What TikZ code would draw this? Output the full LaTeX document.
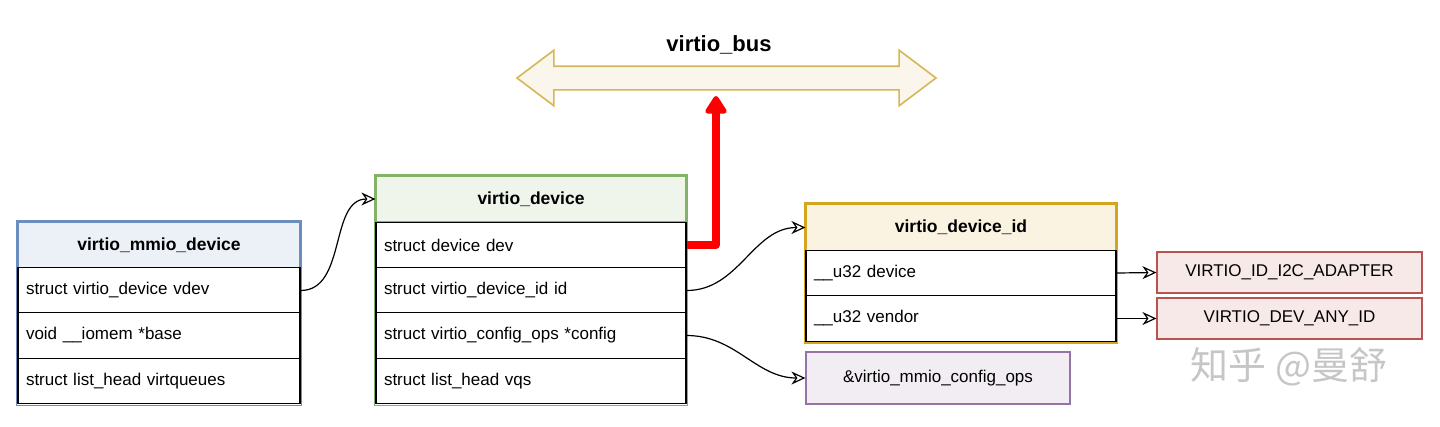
\documentclass[tikz,border=0pt]{standalone}
\usepackage{fontspec}
\setmainfont{Liberation Sans}
\newfontfamily\cjk{Noto Sans CJK SC}
\usetikzlibrary{arrows.meta,shapes.arrows,positioning}
\definecolor{cblue}{HTML}{6C8EBF}
\definecolor{cgreen}{HTML}{82B366}
\definecolor{cgold}{HTML}{D6A520}
\definecolor{cbus}{HTML}{D6B656}
\definecolor{cred}{HTML}{B85450}
\definecolor{cpurple}{HTML}{9673A6}
\definecolor{bright}{HTML}{FF0000}
\tikzset{
  hdr/.style 2 args={draw=#1, fill=#1!13, line width=1.2pt, minimum width=#2, minimum height=46pt,
    inner sep=0pt, font=\bfseries\fontsize{17.5}{20}\selectfont},
  rowbox/.style={draw=black, fill=white, line width=1.3pt, minimum width=#1, text width=#1-16pt,
    minimum height=45.5pt, inner xsep=8pt, inner ysep=0pt, align=left, font=\fontsize{17}{20}\selectfont},
  valbox/.style 2 args={draw=#1, fill=#1!13, line width=1.2pt, minimum width=#2, inner sep=0pt,
    font=\fontsize{17}{20}\selectfont},
  conn/.style={draw=black, line width=1.2pt, -{Stealth[open,length=14pt,width=13pt]}},
  frame/.style={draw=#1, line width=1.2pt}
}
\begin{document}
\begin{tikzpicture}[x=1pt,y=-1pt]
\useasboundingbox (0,0) rectangle (1440,426);
% bus
\node[double arrow, draw=cbus, fill=cbus!12, line width=1.6pt, minimum width=54pt, minimum height=419pt,
  double arrow head extend=16pt, double arrow tip angle=74, inner xsep=0pt, inner ysep=11pt] (bus) at (726.5,78) {};
\node[font=\bfseries\fontsize{22}{26}\selectfont] (buslbl) at (719,45) {virtio\_bus};
% virtio_mmio_device
\node[hdr={cblue}{282pt}] (mmh) at (159,245) {virtio\_mmio\_device};
\node[rowbox=282pt] (mm1) at (159,290.5) {struct virtio\_device vdev};
\node[rowbox=282pt] (mm2) at (159,335.5) {void \_\_iomem *base};
\node[rowbox=282pt] (mm3) at (159,381) {struct list\_head virtqueues};
\draw[frame=cblue] ([shift={(-1,-1)}]mmh.north west) rectangle ([shift={(1,1)}]mm3.south east);
% virtio_device
\node[hdr={cgreen}{310pt}] (devh) at (531,199) {virtio\_device};
\node[rowbox=310pt] (dev1) at (531,245) {struct device dev};
\node[rowbox=310pt] (dev2) at (531,290.5) {struct virtio\_device\_id id};
\node[rowbox=310pt] (dev3) at (531,335.5) {struct virtio\_config\_ops *config};
\node[rowbox=310pt] (dev4) at (531,381) {struct list\_head vqs};
\draw[frame=cgreen] ([shift={(-1,-1)}]devh.north west) rectangle ([shift={(1,1)}]dev4.south east);
% virtio_device_id
\node[hdr={cgold}{310pt}] (idh) at (961,227.5) {virtio\_device\_id};
\node[rowbox=310pt] (id1) at (961,273) {\_\_u32 device};
\node[rowbox=310pt] (id2) at (961,318.5) {\_\_u32 vendor};
\draw[frame=cgold] ([shift={(-1,-1)}]idh.north west) rectangle ([shift={(1,1)}]id2.south east);
% values
\node[valbox={cred}{265pt}, minimum height=41pt] (r1) at (1289.5,272.5) {VIRTIO\_ID\_I2C\_ADAPTER};
\node[valbox={cred}{265pt}, minimum height=41pt] (r2) at (1289.5,318.5) {VIRTIO\_DEV\_ANY\_ID};
\node[valbox={cpurple}{264pt}, minimum height=52pt] (ops) at (938,378) {\&virtio\_mmio\_config\_ops};
% connectors
\draw[conn] (mm1.east) to[out=0,in=180] (devh.west);
\draw[conn] (dev2.east) to[out=0,in=180] (idh.west);
\draw[conn] (dev3.east) to[out=0,in=180] (ops.west);
\draw[conn] (id1.east) -- (r1.west);
\draw[conn] (id2.east) -- (r2.west);
\coordinate (bt) at (716,96);
\draw[draw=bright, line width=8pt, line join=round, -{Triangle[length=20pt,width=24pt,round]}] (dev1.east) -| (bt);
% watermark
\node[text=gray!45, font=\cjk\fontsize{38}{40}\selectfont] (wm) at (1289,367) {知乎 @曼舒};
\end{tikzpicture}
\end{document}
